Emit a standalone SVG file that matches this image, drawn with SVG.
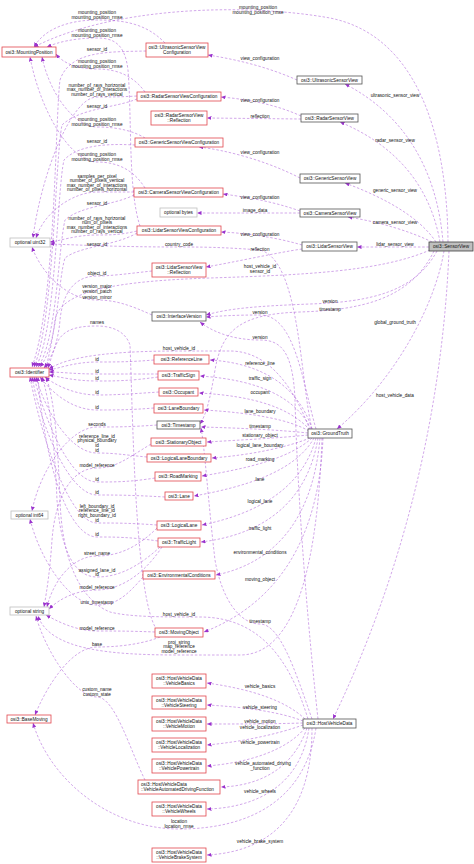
<svg xmlns="http://www.w3.org/2000/svg" width="474" height="864" viewBox="0 0 474 864">
<style>
.r rect{fill:#fff;stroke:#e2474e;stroke-width:0.8}
.g rect{fill:#fff;stroke:#555;stroke-width:0.8}
.o rect{fill:#fff;stroke:#bfbfbf;stroke-width:0.8}
.root rect{fill:#bfbfbf;stroke:#404040;stroke-width:0.8}
text{font-family:"Liberation Sans",Arial,sans-serif;font-size:4.7px;fill:#111;text-anchor:middle}
text.l{text-anchor:start}
#edges path{fill:none;stroke:#a450d4;stroke-width:0.5;stroke-dasharray:2.5,1.8;marker-end:url(#ah)}
</style>
<defs>
<marker id="ah" markerUnits="userSpaceOnUse" markerWidth="5" markerHeight="4" refX="4.5" refY="2" orient="auto"><path d="M0,0 L4.5,2 L0,4 z" fill="#9a32cd"/></marker>
</defs>
<rect width="474" height="864" fill="#fff"/>
<g id="edges">
<path d="M448,242 C447,130 415,35 330,18 C240,2 110,8 34,47"/>
<path d="M443,242 C437,170 405,115 345,84"/>
<path d="M440,242 C430,185 395,145 340,122"/>
<path d="M436,242 C418,215 380,196 345,183"/>
<path d="M432,242 C412,232 380,222 348,217"/>
<path d="M429,247 L357,247"/>
<path d="M430,250 C380,272 300,275 210,278 C120,281 60,290 55,320 C52,345 48,358 46,368"/>
<path d="M437,251 C415,292 370,302 310,304 C260,306 230,308 206,315"/>
<path d="M434,251 C410,300 360,310 300,312 C240,314 222,330 215,370 C210,400 206,415 200,424"/>
<path d="M444,251 C436,300 400,375 337,429"/>
<path d="M449,251 C442,420 400,580 333,719"/>
<path d="M297,80 C270,68 240,60 208,55"/>
<path d="M301,116 C275,104 245,99 221,97"/>
<path d="M301,119 L207,118"/>
<path d="M300,178 C265,160 225,150 199,147"/>
<path d="M300,211 C272,201 245,197 223,194"/>
<path d="M300,213 L197,213"/>
<path d="M302,245 C275,237 245,233 221,232"/>
<path d="M302,249 C275,253 235,262 206,267"/>
<path d="M165,43 C145,22 120,20 97,20 C70,20 45,28 34,47"/>
<path d="M140,226 C128,190 132,120 128,70 C125,45 115,38 97,38 C75,38 58,42 47,47"/>
<path d="M145,92 C135,78 120,69 97,69 C75,69 62,62 56,54"/>
<path d="M145,138 C135,132 120,127 97,127 C75,127 50,95 42,57"/>
<path d="M145,188 C135,172 120,162 97,162 C70,162 40,110 30,57"/>
<path d="M146,51 C110,52 70,50 60,80 C55,120 56,300 32,367"/>
<path d="M137,99 C115,108 80,108 62,125 C55,160 54,320 34,367"/>
<path d="M135,145 C115,144 80,143 64,160 C57,190 56,330 36,367"/>
<path d="M134,195 C115,205 80,206 65,220 C58,250 57,340 38,367"/>
<path d="M137,233 C115,246 80,246 65,258 C58,280 58,345 40,367"/>
<path d="M137,96 C120,97 110,97 97,97 C70,97 40,180 33,238"/>
<path d="M134,192 C120,192 110,192 97,192 C75,192 45,210 36,238"/>
<path d="M137,231 C120,235 110,235 97,235 C75,235 60,241 50,242"/>
<path d="M152,315 C130,305 115,300 97,300 C65,300 40,270 32,247"/>
<path d="M312,429 C300,380 300,260 260,250 C220,247 200,247 179,247 C120,247 80,245 50,244"/>
<path d="M152,271 C125,274 110,276 97,276 C70,276 62,300 60,320 C58,345 50,360 44,368"/>
<path d="M157,630 C135,600 133,420 130,345 C125,330 110,326 97,326 C75,326 62,330 56,345 C52,355 50,362 48,368"/>
<path d="M310,430 C295,390 270,351 230,351 L179,351 C120,351 70,355 49,369"/>
<path d="M154,360 C130,362 115,362 97,362 C75,362 60,368 49,370"/>
<path d="M158,374 C130,374 115,374 97,374 C75,374 60,372 49,372"/>
<path d="M158,377 C130,381 115,381 97,381 C75,381 60,377 49,375"/>
<path d="M159,392 C130,394 115,395 97,395 C75,395 55,385 45,377"/>
<path d="M154,408 C130,410 115,410 97,410 C70,410 50,390 40,377"/>
<path d="M157,425 C130,427 115,427 97,427 C70,427 40,470 32,511"/>
<path d="M147,457 C125,455 115,453 97,453 C70,453 45,410 36,377"/>
<path d="M151,444 C125,460 115,468 97,468 C70,468 55,500 52,540 C50,570 47,590 44,607"/>
<path d="M155,478 C130,482 115,482 97,482 C70,482 45,420 34,377"/>
<path d="M165,497 C130,495 115,495 97,495 C70,495 42,430 32,377"/>
<path d="M157,525 C130,523 115,523 97,523 C70,523 42,440 30,377"/>
<path d="M158,541 C130,537 115,537 97,537 C70,537 45,470 38,377"/>
<path d="M157,528 C135,550 115,556 97,556 C70,556 52,585 47,607"/>
<path d="M160,547 C135,570 115,577 97,577 C70,577 60,540 57,500 C55,450 50,400 42,377"/>
<path d="M162,547 C140,580 115,590 97,590 C75,590 58,600 49,609"/>
<path d="M143,577 C125,598 115,605 97,605 C70,605 40,560 30,519"/>
<path d="M155,632 C130,631 115,631 97,631 C75,631 55,620 46,615"/>
<path d="M160,637 C140,645 115,647 97,647 C70,647 45,690 35,715"/>
<path d="M145,780 C130,750 115,697 97,697 C75,697 45,650 36,616"/>
<path d="M316,728 C305,800 250,829 179,829 C110,829 50,780 33,723"/>
<path d="M308,719 C290,660 260,617 200,617 C160,617 130,617 110,612 C80,600 62,560 60,500 C58,450 55,400 46,377"/>
<path d="M312,719 C295,670 280,624 260,624 C240,624 222,600 215,560 C208,500 205,450 201,428"/>
<path d="M318,719 C305,600 297,480 295,400 C293,350 280,340 260,340 C230,340 210,330 200,322"/>
<path d="M322,438 C318,550 300,655 240,655 L179,655 C110,655 50,650 38,616"/>
<path d="M316,429 C302,380 295,315 260,315 C235,315 220,316 206,317"/>
<path d="M312,429 C298,385 260,363 210,360"/>
<path d="M311,429 C296,398 260,380 200,376"/>
<path d="M310,430 C290,408 255,396 199,393"/>
<path d="M309,431 C290,420 255,413 204,410"/>
<path d="M308,433 C280,430 240,428 201,427"/>
<path d="M308,435 C280,438 240,440 207,442"/>
<path d="M310,438 C285,448 250,455 212,458"/>
<path d="M312,438 C290,458 250,468 202,476"/>
<path d="M314,438 C296,470 250,486 194,496"/>
<path d="M316,438 C302,490 255,514 202,525"/>
<path d="M318,438 C307,505 260,535 201,542"/>
<path d="M320,438 C312,530 265,565 216,575"/>
<path d="M323,438 C318,560 260,610 204,632"/>
<path d="M305,719 C285,700 250,689 207,683"/>
<path d="M303,721 C280,712 245,707 207,705"/>
<path d="M303,723 C270,724 240,724 207,724"/>
<path d="M303,725 C275,735 240,742 207,745"/>
<path d="M305,728 C285,752 245,763 207,766"/>
<path d="M307,728 C292,772 255,786 221,787"/>
<path d="M309,728 C300,790 250,808 207,809"/>
<path d="M312,728 C312,820 265,852 207,855"/>
<g id="edge-labels">
<text x="258" y="8.6">mounting_position</text><text x="258" y="13.6">mounting_position_rmse</text>
<text x="97" y="13.6">mounting_position</text><text x="97" y="18.6">mounting_position_rmse</text>
<text x="97" y="31.6">mounting_position</text><text x="97" y="36.6">mounting_position_rmse</text>
<text x="97" y="50.6">sensor_id</text>
<text x="97" y="62.6">mounting_position</text><text x="97" y="67.6">mounting_position_rmse</text>
<text x="97" y="86.6">number_of_rays_horizontal</text><text x="97" y="91.1">max_number_of_interactions</text><text x="97" y="95.6">number_of_rays_vertical</text>
<text x="97" y="107.6">sensor_id</text>
<text x="97" y="120.6">mounting_position</text><text x="97" y="125.6">mounting_position_rmse</text>
<text x="97" y="142.6">sensor_id</text>
<text x="97" y="155.6">mounting_position</text><text x="97" y="160.6">mounting_position_rmse</text>
<text x="97" y="177.6">samples_per_pixel</text><text x="97" y="182.1">number_of_pixels_vertical</text><text x="97" y="186.6">max_number_of_interactions</text><text x="97" y="191.1">number_of_pixels_horizontal</text>
<text x="97" y="204.6">sensor_id</text>
<text x="97" y="219.6">number_of_rays_horizontal</text><text x="97" y="224.1">num_of_pixels</text><text x="97" y="228.6">max_number_of_interactions</text><text x="97" y="233.1">number_of_rays_vertical</text>
<text x="97" y="245.6">sensor_id</text>
<text x="179" y="245.6">country_code</text>
<text x="97" y="274.6">object_id</text>
<text x="97" y="288">version_major</text><text x="97" y="293.3">version_patch</text><text x="97" y="298.6">version_minor</text>
<text x="97" y="323.6">names</text>
<text x="179" y="349.6">host_vehicle_id</text>
<text x="97" y="360.6">id</text>
<text x="97" y="372.6">id</text><text x="97" y="379.6">id</text>
<text x="97" y="393.6">id</text>
<text x="97" y="408.6">id</text>
<text x="97" y="425.6">seconds</text>
<text x="97" y="437.6">reference_line_id</text><text x="97" y="442.3">physical_boundary</text><text x="97" y="447">id</text><text x="97" y="451.6">id</text>
<text x="97" y="466.6">model_reference</text>
<text x="97" y="480.6">id</text>
<text x="97" y="493.6">id</text>
<text x="97" y="507.6">left_boundary_id</text><text x="97" y="512.1">reference_line_id</text><text x="97" y="516.6">right_boundary_id</text><text x="97" y="521.6">id</text>
<text x="97" y="535.6">id</text>
<text x="97" y="554.6">street_name</text>
<text x="97" y="571.6">assigned_lane_id</text><text x="97" y="576">id</text>
<text x="97" y="588.6">model_reference</text>
<text x="97" y="603.6">unix_timestamp</text>
<text x="179" y="615.6">host_vehicle_id</text>
<text x="97" y="629.6">model_reference</text>
<text x="97" y="645.6">base</text>
<text x="179" y="643.6">proj_string</text><text x="179" y="648.3">map_reference</text><text x="179" y="653">model_reference</text>
<text x="97" y="690.6">custom_name</text><text x="97" y="695.6">custom_state</text>
<text x="179" y="822.6">location</text><text x="179" y="827.6">location_rmse</text>
<text x="260" y="59.6">view_configuration</text>
<text x="260" y="101.6">view_configuration</text>
<text x="260" y="117.6">reflection</text>
<text x="260" y="153.6">view_configuration</text>
<text x="260" y="198.6">view_configuration</text>
<text x="255" y="211.6">image_data</text>
<text x="260" y="235.6">view_configuration</text>
<text x="260" y="250.6">reflection</text>
<text x="260" y="267.6">host_vehicle_id</text><text x="260" y="272.6">sensor_id</text>
<text x="330" y="302.6">version</text>
<text x="330" y="310.6">timestamp</text>
<text x="260" y="313.6">version</text>
<text x="260" y="338.6">version</text>
<text x="260" y="364.6">reference_line</text>
<text x="260" y="379.6">traffic_sign</text>
<text x="260" y="393.6">occupant</text>
<text x="260" y="412.6">lane_boundary</text>
<text x="260" y="427.6">timestamp</text>
<text x="260" y="436.6">stationary_object</text>
<text x="260" y="446.6">logical_lane_boundary</text>
<text x="260" y="460.6">road_marking</text>
<text x="260" y="480.6">lane</text>
<text x="260" y="502.6">logical_lane</text>
<text x="260" y="529.6">traffic_light</text>
<text x="260" y="553.6">environmental_conditions</text>
<text x="260" y="580.6">moving_object</text>
<text x="260" y="622.6">timestamp</text>
<text x="260" y="687.6">vehicle_basics</text>
<text x="260" y="708.6">vehicle_steering</text>
<text x="260" y="722.6">vehicle_motion</text>
<text x="260" y="728.6">vehicle_localization</text>
<text x="260" y="743.6">vehicle_powertrain</text>
<text x="263" y="764.6">vehicle_automated_driving</text><text x="260" y="769.6">_function</text>
<text x="260" y="792.6">vehicle_wheels</text>
<text x="260" y="842.6">vehicle_brake_system</text>
<text x="395" y="96.6">ultrasonic_sensor_view</text>
<text x="395" y="141.6">radar_sensor_view</text>
<text x="395" y="191.6">generic_sensor_view</text>
<text x="395" y="223.6">camera_sensor_view</text>
<text x="395" y="245.6">lidar_sensor_view</text>
<text x="395" y="323.6">global_ground_truth</text>
<text x="395" y="396.6">host_vehicle_data</text>
</g>
</g>
<g id="n_mountingposition" class="r"><rect x="2" y="47" width="54" height="10"/><text x="29" y="53.7">osi3::MountingPosition</text></g>
<g id="n_ultrasonic_config" class="r"><rect x="146" y="43" width="62" height="14"/><text x="177" y="48.8">osi3::UltrasonicSensorView</text><text x="177" y="54.3">Configuration</text></g>
<g id="n_radar_config" class="r"><rect x="137" y="92" width="84" height="9"/><text x="179" y="98.1">osi3::RadarSensorViewConfiguration</text></g>
<g id="n_radar_reflection" class="r"><rect x="151" y="111" width="56" height="14"/><text x="179" y="116.8">osi3::RadarSensorView</text><text x="179" y="122.3">::Reflection</text></g>
<g id="n_generic_config" class="r"><rect x="135" y="138" width="88" height="9"/><text x="179" y="144.1">osi3::GenericSensorViewConfiguration</text></g>
<g id="n_ultrasonic_view" class="g"><rect x="297" y="76" width="65" height="8"/><text x="329.5" y="81.6">osi3::UltrasonicSensorView</text></g>
<g id="n_radar_view" class="g"><rect x="301" y="114" width="57" height="8"/><text x="329.5" y="119.6">osi3::RadarSensorView</text></g>
<g id="n_generic_view" class="g"><rect x="300" y="174" width="60" height="9"/><text x="330" y="180.1">osi3::GenericSensorView</text></g>
<g id="n_camera_config" class="r"><rect x="134" y="188" width="89" height="9"/><text x="178.5" y="194.1">osi3::CameraSensorViewConfiguration</text></g>
<g id="n_optional_bytes" class="o"><rect x="160" y="208" width="37" height="9"/><text x="178.5" y="214.1">optional bytes</text></g>
<g id="n_camera_view" class="g"><rect x="300" y="209" width="60" height="8"/><text x="330" y="214.6">osi3::CameraSensorView</text></g>
<g id="n_lidar_config" class="r"><rect x="137" y="226" width="84" height="9"/><text x="179" y="232.1">osi3::LidarSensorViewConfiguration</text></g>
<g id="n_optional_uint32" class="o"><rect x="10" y="238" width="40" height="9"/><text x="30" y="244.1">optional uint32</text></g>
<g id="n_lidar_view" class="g"><rect x="302" y="242" width="55" height="9"/><text x="329.5" y="248.1">osi3::LidarSensorView</text></g>
<g id="n_sensorview" class="root"><rect x="429" y="242" width="44" height="9"/><text x="451" y="248.1">osi3::SensorView</text></g>
<g id="n_lidar_reflection" class="r"><rect x="152" y="263" width="54" height="14"/><text x="179" y="268.8">osi3::LidarSensorView</text><text x="179" y="274.3">::Reflection</text></g>
<g id="n_interfaceversion" class="g"><rect x="152" y="312" width="54" height="9"/><text x="179" y="318.1">osi3::InterfaceVersion</text></g>
<g id="n_identifier" class="r"><rect x="10" y="368" width="39" height="9"/><text x="29.5" y="374.1">osi3::Identifier</text></g>
<g id="n_referenceline" class="r"><rect x="154" y="355" width="55" height="9"/><text x="181.5" y="361.1">osi3::ReferenceLine</text></g>
<g id="n_trafficsign" class="r"><rect x="158" y="371" width="41" height="9"/><text x="178.5" y="377.1">osi3::TrafficSign</text></g>
<g id="n_occupant" class="r"><rect x="159" y="388" width="39" height="8"/><text x="178.5" y="393.6">osi3::Occupant</text></g>
<g id="n_laneboundary" class="r"><rect x="154" y="404" width="49" height="9"/><text x="178.5" y="410.1">osi3::LaneBoundary</text></g>
<g id="n_timestamp" class="g"><rect x="157" y="421" width="43" height="8"/><text x="178.5" y="426.6">osi3::Timestamp</text></g>
<g id="n_groundtruth" class="g"><rect x="308" y="429" width="44" height="9"/><text x="330" y="435.1">osi3::GroundTruth</text></g>
<g id="n_stationaryobject" class="r"><rect x="151" y="438" width="55" height="8"/><text x="178.5" y="443.6">osi3::StationaryObject</text></g>
<g id="n_logicallaneboundary" class="r"><rect x="147" y="454" width="64" height="8"/><text x="179" y="459.6">osi3::LogicalLaneBoundary</text></g>
<g id="n_roadmarking" class="r"><rect x="155" y="472" width="46" height="9"/><text x="178" y="478.1">osi3::RoadMarking</text></g>
<g id="n_lane" class="r"><rect x="165" y="492" width="28" height="8"/><text x="179" y="497.6">osi3::Lane</text></g>
<g id="n_optional_int64" class="o"><rect x="11" y="511" width="37" height="8"/><text x="29.5" y="516.6">optional int64</text></g>
<g id="n_logicallane" class="r"><rect x="157" y="521" width="44" height="9"/><text x="179" y="527.1">osi3::LogicalLane</text></g>
<g id="n_trafficlight" class="r"><rect x="158" y="538" width="42" height="9"/><text x="179" y="544.1">osi3::TrafficLight</text></g>
<g id="n_environmentalconditions" class="r"><rect x="143" y="571" width="72" height="8"/><text x="179" y="576.6">osi3::EnvironmentalConditions</text></g>
<g id="n_optional_string" class="o"><rect x="10" y="607" width="39" height="8"/><text x="29.5" y="612.6">optional string</text></g>
<g id="n_movingobject" class="r"><rect x="155" y="628" width="48" height="9"/><text x="179" y="634.1">osi3::MovingObject</text></g>
<g id="n_vehiclebasics" class="r"><rect x="152" y="674" width="54" height="14"/><text x="179" y="679.8">osi3::HostVehicleData</text><text x="179" y="685.3">::VehicleBasics</text></g>
<g id="n_vehiclesteering" class="r"><rect x="152" y="696" width="54" height="13"/><text x="179" y="701.5">osi3::HostVehicleData</text><text x="179" y="707">::VehicleSteering</text></g>
<g id="n_basemoving" class="r"><rect x="7" y="715" width="44" height="8"/><text x="29" y="720.6">osi3::BaseMoving</text></g>
<g id="n_hostvehicledata" class="g"><rect x="303" y="719" width="53" height="9"/><text x="329.5" y="725.1">osi3::HostVehicleData</text></g>
<g id="n_vehiclemotion" class="r"><rect x="152" y="717" width="54" height="14"/><text x="179" y="722.8">osi3::HostVehicleData</text><text x="179" y="728.3">::VehicleMotion</text></g>
<g id="n_vehiclelocalization" class="r"><rect x="152" y="738" width="54" height="14"/><text x="179" y="743.8">osi3::HostVehicleData</text><text x="179" y="749.3">::VehicleLocalization</text></g>
<g id="n_vehiclepowertrain" class="r"><rect x="152" y="759" width="54" height="14"/><text x="179" y="764.8">osi3::HostVehicleData</text><text x="179" y="770.3">::VehiclePowertrain</text></g>
<g id="n_vehicleadf" class="r"><rect x="138" y="780" width="82" height="14"/><text class="l" x="141" y="785.8">osi3::HostVehicleData</text><text class="l" x="141" y="791.3">::VehicleAutomatedDrivingFunction</text></g>
<g id="n_vehiclewheels" class="r"><rect x="152" y="802" width="54" height="14"/><text x="179" y="807.8">osi3::HostVehicleData</text><text x="179" y="813.3">::VehicleWheels</text></g>
<g id="n_vehiclebrakesystem" class="r"><rect x="152" y="848" width="54" height="14"/><text x="179" y="853.8">osi3::HostVehicleData</text><text x="179" y="859.3">::VehicleBrakeSystem</text></g>
</svg>
